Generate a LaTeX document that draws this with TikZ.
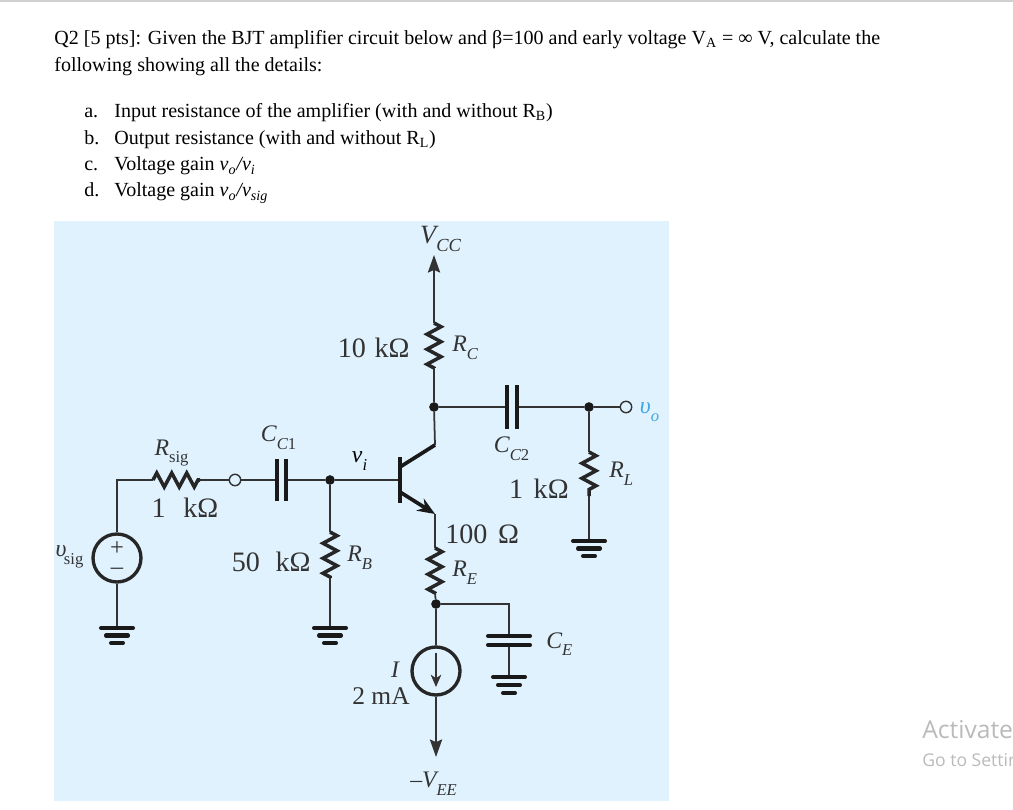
\documentclass[tikz,border=0pt]{standalone}
\usepackage{fontspec}
\setmainfont{Liberation Serif}
\newfontfamily\noticefont{Open Sans}
\usepackage{tikz}
\usetikzlibrary{positioning,arrows.meta,decorations.pathmorphing,calc}
\definecolor{panel}{HTML}{E0F2FE}
\definecolor{wire}{HTML}{333333}
\definecolor{outblue}{HTML}{3FA9E0}
\tikzset{every picture/.style={>={Stealth[length=10pt,width=7pt,inset=1.5pt]},x=0.02cm,y=-0.02cm}}
\tikzset{wire lines/.style={wire,line width=1pt}}
\tikzset{res lines/.style={black!85,line width=2pt,decorate,decoration={zigzag,amplitude=0.14cm,segment length=0.3cm}}}
\tikzset{plate lines/.style={black!90,line width=2.3pt}}
\tikzset{dot/.style={circle,fill=black!90,inner sep=0pt,minimum size=5.5pt}}
\tikzset{open dot/.style={circle,draw=wire,fill=panel,line width=0.8pt,inner sep=0pt,minimum size=6.5pt}}
\tikzset{source/.style={circle,draw=black!85,line width=1.9pt,inner sep=0pt,minimum size=0.96cm}}
\tikzset{qtext/.style={anchor=base west,inner sep=0pt,font=\fontsize{11.4}{14}\selectfont}}
\tikzset{val/.style={inner sep=0pt,text=wire,font=\fontsize{16}{17}\selectfont}}
\tikzset{sym/.style={inner sep=0pt,text=wire,font=\fontsize{13.5}{16}\selectfont\itshape}}
\tikzset{faint/.style={anchor=base west,inner sep=0pt,text=black!27}}
\newcommand{\lsub}[1]{\textsubscript{\raisebox{-0.5ex}{#1}}}
\newcommand{\tsub}[1]{\textsubscript{\raisebox{-0.15ex}{#1}}}
% three stacked bars of a ground, with widths in pixels
\newcommand{\groundat}[5]{
  \draw[plate lines,line cap=round] ($(#1)+(-#2,0)$) -- ($(#1)+(#2,0)$);
  \draw[plate lines,line cap=round] ($(#1)+(-#3,#5)$) -- ($(#1)+(#3,#5)$);
  \draw[plate lines,line cap=round] ($(#1)+(-#4,2*#5)$) -- ($(#1)+(#4,2*#5)$);
}
\begin{document}
\begin{tikzpicture}
  \useasboundingbox (0,0) rectangle (1013,810);
  \fill[black!18] (0,0) rectangle (1013,2);
  \fill[panel] (54,221) rectangle (669,801);

  % question text
  \node[qtext] (qline1) at (54,45) {Q2 [5 pts]: Given the BJT amplifier circuit below and β=100 and early voltage V\textsubscript{A} = ∞ V, calculate the};
  \node[qtext] (qline2) at (54,72) {following showing all the details:};
  \node[qtext] (itema) at (84,118) {a.};
  \node[qtext] (itemb) at (84,145) {b.};
  \node[qtext] (itemc) at (84,171) {c.};
  \node[qtext] (itemd) at (84,197) {d.};
  \node[qtext] (itematext) at (114,118) {Input resistance of the amplifier (with and without R\textsubscript{B})};
  \node[qtext] (itembtext) at (114,145) {Output resistance (with and without R\textsubscript{L})};
  \node[qtext] (itemctext) at (114,171) {Voltage gain \textit{v\tsub{o}/v\tsub{i}}};
  \node[qtext] (itemdtext) at (114,197) {Voltage gain \textit{v\tsub{o}/v\tsub{sig}}};

  % points of the circuit
  \coordinate (corner) at (117,480);
  \node[source] (vsig) at (117,558) {};
  \coordinate (gndsig) at (117,628);
  \coordinate (rsigl) at (153,480);
  \coordinate (rsigr) at (200,480);
  \node[open dot] (inport) at (235,480) {};
  \coordinate (c1l) at (277,480);
  \coordinate (c1r) at (286,480);
  \node[dot] (basenode) at (330,480) {};
  \coordinate (rbt) at (330,532);
  \coordinate (rbb) at (330,578);
  \coordinate (gndb) at (330,628);
  \coordinate (basepin) at (400,480);
  \coordinate (bart) at (400,457);
  \coordinate (barb) at (400,503);
  \coordinate (colpin) at (400,467);
  \coordinate (colend) at (435,445);
  \coordinate (emipin) at (400,492);
  \coordinate (emiend) at (435,514);
  \coordinate (vcc) at (434,255);
  \coordinate (rct) at (434,323);
  \coordinate (rcb) at (434,368);
  \node[dot] (colnode) at (434,407) {};
  \coordinate (c2l) at (507,407);
  \coordinate (c2r) at (517,407);
  \node[dot] (outnode) at (589,407) {};
  \node[open dot] (outport) at (626,407) {};
  \coordinate (rlt) at (589,452);
  \coordinate (rlb) at (589,496);
  \coordinate (gndl) at (589,541);
  \coordinate (ret) at (435,548);
  \coordinate (reb) at (435,593);
  \node[dot] (emnode) at (436,604) {};
  \coordinate (cetop) at (509,604);
  \coordinate (cea) at (509,636);
  \coordinate (ceb) at (509,645);
  \coordinate (gnde) at (509,677);
  \node[source] (isrc) at (436,671) {};
  \coordinate (vee) at (436,757);

  % wires
  \draw[wire lines] (vsig) -- (corner) -- (rsigl);
  \draw[wire lines] (rsigr) -- (inport) -- (c1l);
  \draw[wire lines] (c1r) -- (basenode) -- (basepin);
  \draw[wire lines] (basenode) -- (rbt);
  \draw[wire lines] (rbb) -- (gndb);
  \draw[wire lines] (vsig) -- (gndsig);
  \draw[wire lines,->] (rct) -- (vcc);
  \draw[wire lines] (rcb) -- (colnode) -- (colend);
  \draw[wire lines] (colnode) -- (c2l);
  \draw[wire lines] (c2r) -- (outnode) -- (outport);
  \draw[wire lines] (outnode) -- (rlt);
  \draw[wire lines] (rlb) -- (gndl);
  \draw[wire lines] (emiend) -- (ret);
  \draw[wire lines] (reb) -- (emnode) -- (isrc);
  \draw[wire lines] (emnode) -- (cetop) -- (cea);
  \draw[wire lines] (ceb) -- (gnde);
  \draw[wire lines,->] (isrc) -- (vee);

  % resistors
  \draw[res lines] (rsigl) -- (rsigr);
  \draw[res lines] (rbt) -- (rbb);
  \draw[res lines] (rct) -- (rcb);
  \draw[res lines] (rlt) -- (rlb);
  \draw[res lines] (ret) -- (reb);

  % capacitors
  \draw[plate lines] ($(c1l)+(0,-21)$) -- ($(c1l)+(0,21)$);
  \draw[plate lines] ($(c1r)+(0,-21)$) -- ($(c1r)+(0,21)$);
  \draw[plate lines] ($(c2l)+(0,-22)$) -- ($(c2l)+(0,22)$);
  \draw[plate lines] ($(c2r)+(0,-22)$) -- ($(c2r)+(0,22)$);
  \draw[plate lines,line cap=round] ($(cea)+(-21,0)$) -- ($(cea)+(21,0)$);
  \draw[plate lines,line cap=round] ($(ceb)+(-21,0)$) -- ($(ceb)+(21,0)$);

  % grounds
  \groundat{gndsig}{16}{11}{6}{7.5}
  \groundat{gndb}{16}{11}{6}{7.5}
  \groundat{gndl}{16}{11}{6}{7.5}
  \groundat{gnde}{16}{11}{6}{8}

  % transistor
  \draw[black!90,line width=2.6pt] (bart) -- (barb);
  \draw[black!90,line width=2.1pt] (colpin) -- (colend);
  \draw[black!90,line width=2.1pt,-{Stealth[length=10pt,width=8pt]}] (emipin) -- (emiend);

  % source marks
  \node[inner sep=0pt,text=wire,align=center,font=\fontsize{14}{11.3}\selectfont] (signs) at (117,558) {+\\–};
  \coordinate (iarrowt) at (436,653);
  \coordinate (iarrowb) at (436,687);
  \draw[wire lines,->,>={Stealth[length=7pt,width=6pt,inset=2pt]}] (iarrowt) -- (iarrowb);

  % labels
  \node[sym] (vcclabel) at (441,239) {\fontsize{15}{16}\selectfont V\lsub{CC}};
  \node[val,anchor=east] (rcval) at (410,348) {10\hspace{1pt} kΩ};
  \node[sym,anchor=west] (rclabel) at (452,348) {R\lsub{C}};
  \node[sym] (c1label) at (279,438) {C\lsub{C\upshape 1}};
  \node[sym] (c2label) at (512,449) {C\lsub{C\upshape 2}};
  \node[sym] (rsiglabel) at (172,453) {R\lsub{\upshape sig}};
  \node[val] (rsigval) at (185,508) {1\hspace{6pt} kΩ};
  \node[val,anchor=east] (rbval) at (311,562) {50\hspace{5pt} kΩ};
  \node[sym,anchor=west] (rblabel) at (347,558) {R\lsub{B}};
  \node[sym,text=black] (vilabel) at (360,461) {v\lsub{i}};
  \node[sym] (vsiglabel) at (70,557) {υ\hspace{-1.5pt}\lsub{\upshape sig}};
  \node[sym,text=outblue] (volabel) at (650,412) {υ\lsub{o}};
  \node[sym,anchor=west] (rllabel) at (609,474) {R\lsub{L}};
  \node[val,anchor=east] (rlval) at (569,489) {1\hspace{2pt} kΩ};
  \node[val,anchor=west] (reval) at (445,534) {100\hspace{2pt} Ω};
  \node[sym,anchor=west] (relabel) at (452,573) {R\lsub{E}};
  \node[sym,anchor=west] (celabel) at (546,644) {C\lsub{E}};
  \node[sym] (ilabel) at (395,670) {I};
  \node[val,font=\fontsize{14.5}{16}\selectfont] (ival) at (381,696) {2 mA};
  \node[sym] (veelabel) at (434,784) {–V\lsub{EE}};

  \node[faint,font=\fontsize{14}{15}\noticefont] (actline) at (922,738) {Activate};
  \node[faint,font=\fontsize{10}{12}\noticefont] (setline) at (922,766) {Go to Settir};
\end{tikzpicture}
\end{document}
